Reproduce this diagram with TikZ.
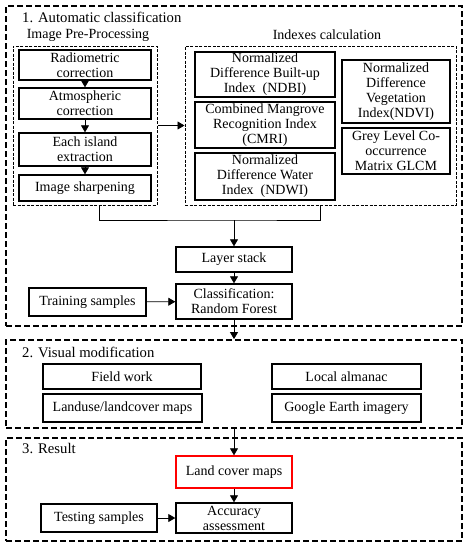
\documentclass[tikz,border=0pt]{standalone}
\usepackage{fontspec}
\setmainfont{Liberation Serif}
\usetikzlibrary{arrows.meta}

\begin{document}
\begin{tikzpicture}[x=1pt,y=-1pt,>={Triangle[width=8pt,length=7pt]},
		box/.style={draw,line width=1.4pt,align=center,inner sep=1pt,font=\fontsize{14}{15}\selectfont},
		stage/.style={draw,line width=1.8pt,dash pattern=on 6pt off 3pt,minimum width=456pt},
		group/.style={draw,line width=1pt,dash pattern=on 3pt off 1.5pt},
		title/.style={anchor=west,inner sep=0pt,font=\fontsize{14.7}{16}\selectfont},
		sub/.style={inner sep=0pt,font=\fontsize{14}{15}\selectfont},
		link/.style={line width=0.8pt}]
		%
		\useasboundingbox (0,0) rectangle (468,550);
		%
		\node[stage,minimum height=320pt] (s1) at (234,166) {};
		\node[stage,minimum height=88pt] (s2) at (234,384) {};
		\node[stage,minimum height=103pt] (s3) at (234,489.5) {};
		\node[title] (t1) at (22,17) {1. Automatic classification};
		\node[title] (t2) at (22,352) {2. Visual modification};
		\node[title] (t3) at (22,448) {3. Result};
		%
		\node[group,minimum width=144pt,minimum height=159pt] (pre) at (85,125.5) {};
		\node[group,minimum width=271pt,minimum height=159pt] (idx) at (320.5,125.5) {};
		\node[sub] (tpre) at (88,35) {Image Pre-Processing};
		\node[sub] (tidx) at (327,35) {Indexes calculation};
		%
		\node[box,minimum width=132pt,minimum height=30pt] (rad) at (85,65) {Radiometric\\correction};
		\node[box,minimum width=132pt,minimum height=31pt] (atm) at (85,103.5) {Atmospheric\\correction};
		\node[box,minimum width=132pt,minimum height=33pt] (isl) at (85,149.5) {Each island\\extraction};
		\node[box,minimum width=132pt,minimum height=26pt] (shp) at (85,188) {Image sharpening};
		%
		\node[box,minimum width=140pt,minimum height=45pt] (ndbi) at (265,74.5) {Normalized\\Difference Built-up\\Index\enspace(NDBI)};
		\node[box,minimum width=140pt,minimum height=46pt] (cmri) at (265,125) {Combined Mangrove\\Recognition Index\\(CMRI)};
		\node[box,minimum width=140pt,minimum height=47pt] (ndwi) at (265,176.5) {Normalized\\Difference Water\\Index\enspace(NDWI)};
		\node[box,minimum width=108pt,minimum height=63pt] (ndvi) at (396,91.5) {Normalized\\Difference\\Vegetation\\Index(NDVI)};
		\node[box,minimum width=108pt,minimum height=46pt] (glcm) at (396,151) {Grey Level Co-\\occurrence\\Matrix GLCM};
		%
		\node[box,minimum width=116pt,minimum height=25pt] (lay) at (234,259.5) {Layer stack};
		\node[box,minimum width=116pt,minimum height=35pt] (cls) at (234,301.5) {Classification:\\Random Forest};
		\node[box,minimum width=117pt,minimum height=28pt] (trn) at (87.5,302) {Training samples};
		%
		\node[box,minimum width=158pt,minimum height=25pt] (fld) at (122,376.5) {Field work};
		\node[box,minimum width=159pt,minimum height=28pt] (lnd) at (122.5,408) {Landuse/landcover maps};
		\node[box,minimum width=149pt,minimum height=25pt] (alm) at (346.5,376.5) {Local almanac};
		\node[box,minimum width=149pt,minimum height=28pt] (ggl) at (346.5,408) {Google Earth imagery};
		%
		\node[box,draw=red,minimum width=116pt,minimum height=32pt] (lcm) at (234,472) {Land cover maps};
		\node[box,minimum width=116pt,minimum height=30pt] (acc) at (234,518) {Accuracy\\assessment};
		\node[box,minimum width=116pt,minimum height=28pt] (tst) at (99,518) {Testing samples};
		%
		\coordinate (jn) at (234,220);
		\draw[link,->] (rad) -- (atm);
		\draw[link,->] (atm) -- (isl);
		\draw[link,->] (isl) -- (shp);
		\draw[link,->] (pre) -- (idx);
		\draw[link] ([xshift=14pt]pre.south) |- (jn) -| (idx.south);
		\draw[link,->] (jn) -- (lay);
		\draw[link,->] (lay) -- (cls);
		\draw[link,->] (trn) -- (cls);
		\draw[link,->] (cls) -- (s2);
		\draw[link,->] (s2) -- (lcm);
		\draw[link,->] (lcm) -- (acc);
		\draw[link,->] (tst) -- (acc);
		%
	\end{tikzpicture}
\end{document}
